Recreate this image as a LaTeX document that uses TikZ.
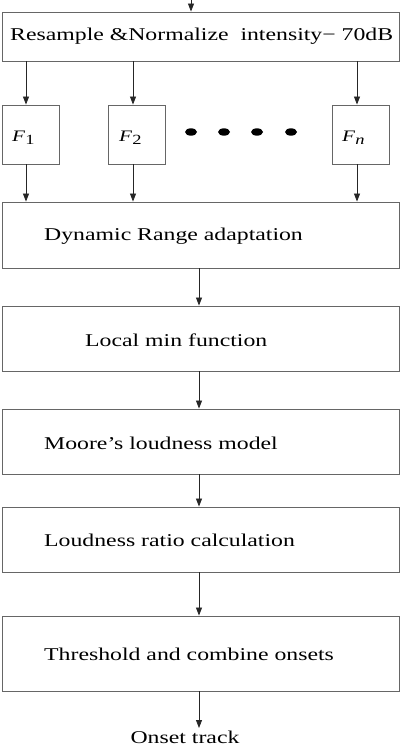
\documentclass[tikz,border=0pt]{standalone}
\usepackage{fontspec}
\setmainfont{Liberation Serif}
\usetikzlibrary{arrows.meta}
\newcommand{\sx}[1]{\scalebox{1.32}[1]{#1}}
\newcommand{\fsub}[1]{\raisebox{-3pt}{\fontsize{14}{16}\selectfont #1}}
\begin{document}
\begin{tikzpicture}[x=1pt,y=-1pt,
  blk/.style={draw=black!60, line width=0.9pt, inner sep=0pt, minimum width=397pt},
  fbox/.style={draw=black!60, line width=0.9pt, inner sep=0pt, minimum width=57pt, minimum height=59pt},
  lbl/.style={anchor=west, inner sep=0pt, font=\fontsize{18}{20}\selectfont},
  flbl/.style={anchor=west, inner sep=0pt, font=\fontsize{16}{18}\selectfont},
  arr/.style={draw=black!85, line width=0.8pt, -{Triangle[width=6pt,length=8pt]}},
  dot/.style={fill=black}]
\useasboundingbox (0,0) rectangle (400,746);
\fill[white] (0,0) rectangle (400,746);
% boxes
\node[blk, minimum height=49pt] (top) at (200.5,36.5) {};
\node[fbox] (F1) at (30.5,134.5) {};
\node[fbox] (F2) at (137,134.5) {};
\node[fbox] (Fn) at (361,134.5) {};
\node[blk, minimum height=66pt] (dyn) at (200.5,235) {};
\node[blk, minimum height=65pt] (loc) at (200.5,338.5) {};
\node[blk, minimum height=65pt] (moo) at (200.5,441.5) {};
\node[blk, minimum height=65pt] (rat) at (200.5,539.5) {};
\node[blk, minimum height=75pt] (thr) at (200.5,653.5) {};
% texts
\node[lbl] (ttop) at (10,36) {\sx{Resample \&Normalize\ \ intensity− 70dB}};
\node[flbl] (tF1) at (12,138) {\sx{\textit{F}\fsub{1}}};
\node[flbl] (tF2) at (119,138) {\sx{\textit{F}\fsub{2}}};
\node[flbl] (tFn) at (342,138) {\sx{\textit{F}\fsub{\textit{n}}}};
\node[lbl] (tdyn) at (44,236) {\sx{Dynamic Range adaptation}};
\node[lbl] (tloc) at (85,340) {\sx{Local min function}};
\node[lbl] (tmoo) at (44,443) {\sx{Moore’s loudness model}};
\node[lbl] (trat) at (44,540) {\sx{Loudness ratio calculation}};
\node[lbl] (tthr) at (44,654) {\sx{Threshold and combine onsets}};
\node[lbl, anchor=base] (onset) at (185,743) {\sx{Onset track}};
% dots
\foreach \x in {191,224,257,291} \fill[dot] (\x,132) ellipse (6pt and 3.7pt);
% connectors
\coordinate (in) at (191,0);
\draw[arr] (in) -- (in |- top.north);
\draw[arr] (top.south -| 26,0) -- (F1.north -| 26,0);
\draw[arr] (top.south -| 133,0) -- (F2.north -| 133,0);
\draw[arr] (top.south -| 357,0) -- (Fn.north -| 357,0);
\draw[arr] (F1.south -| 26,0) -- (dyn.north -| 26,0);
\draw[arr] (F2.south -| 133,0) -- (dyn.north -| 133,0);
\draw[arr] (Fn.south -| 357,0) -- (dyn.north -| 357,0);
\draw[arr] (dyn.south -| 199,0) -- (loc.north -| 199,0);
\draw[arr] (loc.south -| 199,0) -- (moo.north -| 199,0);
\draw[arr] (moo.south -| 199,0) -- (rat.north -| 199,0);
\draw[arr] (rat.south -| 199,0) -- (thr.north -| 199,0);
\draw[arr] (thr.south -| 199,0) -- (199,728);
\end{tikzpicture}
\end{document}
